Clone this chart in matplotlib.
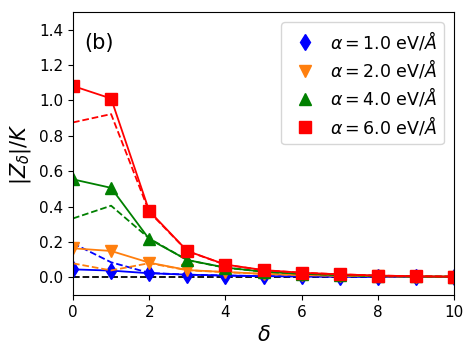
import numpy as np
import matplotlib
matplotlib.use("Agg")
import matplotlib.pyplot as plt

delta = np.arange(0, 11)

# solid lines (with markers)
z_a1 = [0.045, 0.038, 0.023, 0.015, 0.010, 0.007, 0.005, 0.004, 0.003, 0.002, 0.002]
z_a2 = [0.164, 0.149, 0.083, 0.041, 0.030, 0.020, 0.013, 0.009, 0.006, 0.004, 0.003]
z_a4 = [0.554, 0.506, 0.216, 0.098, 0.055, 0.032, 0.020, 0.013, 0.008, 0.005, 0.004]
z_a6 = [1.082, 1.011, 0.375, 0.149, 0.072, 0.041, 0.026, 0.017, 0.010, 0.006, 0.004]

# dashed lines (no markers)
d_a1 = [0.192, 0.085, 0.025, 0.015, 0.010, 0.007, 0.005, 0.004, 0.003, 0.002, 0.002]
d_a2 = [0.079, 0.039, 0.080, 0.040, 0.029, 0.019, 0.013, 0.009, 0.006, 0.004, 0.003]
d_a4 = [0.333, 0.405, 0.220, 0.097, 0.054, 0.032, 0.020, 0.013, 0.008, 0.005, 0.004]
d_a6 = [0.876, 0.923, 0.370, 0.148, 0.071, 0.040, 0.026, 0.017, 0.010, 0.006, 0.004]

labels = [r'$\alpha=1.0$ eV/$\AA$', r'$\alpha=2.0$ eV/$\AA$',
          r'$\alpha=4.0$ eV/$\AA$', r'$\alpha=6.0$ eV/$\AA$']

fig = plt.figure(figsize=(4.74, 3.55), dpi=100)
ax = fig.add_axes([0.154, 0.169, 0.804, 0.797])

solid = [z_a1, z_a2, z_a4, z_a6]
dashed = [d_a1, d_a2, d_a4, d_a6]
colors = ['b', 'tab:orange', 'g', 'r']
markers = ['d', 'v', '^', 's']
msizes = [8, 9, 9, 9]

ax.plot(delta, np.zeros(len(delta)), 'k--', lw=1.3)
handles = []
for s, d, c, m, ms, lab in zip(solid, dashed, colors, markers, msizes, labels):
    ax.plot(delta, d, '--', color=c, lw=1.3)
    ax.plot(delta, s, '-', color=c, lw=1.3)
    h, = ax.plot(delta, s, m, color=c, ms=ms, ls='none', label=lab)
    handles.append(h)

ax.set_xlim(0, 10)
ax.set_ylim(-0.1, 1.5)
ax.set_xticks([0, 2, 4, 6, 8, 10])
ax.set_yticks([0.0, 0.2, 0.4, 0.6, 0.8, 1.0, 1.2, 1.4])
ax.tick_params(labelsize=11)
ax.set_xlabel(r'$\delta$', fontsize=15)
ax.set_ylabel(r'$|Z_\delta|/K$', fontsize=15)
ax.text(0.03, 0.87, '(b)', transform=ax.transAxes, fontsize=15)
ax.legend(handles=handles, loc='upper right', fontsize=12.5,
          handletextpad=0.4, labelspacing=0.3, borderaxespad=0.6)

fig.savefig('out.png', dpi=100)
